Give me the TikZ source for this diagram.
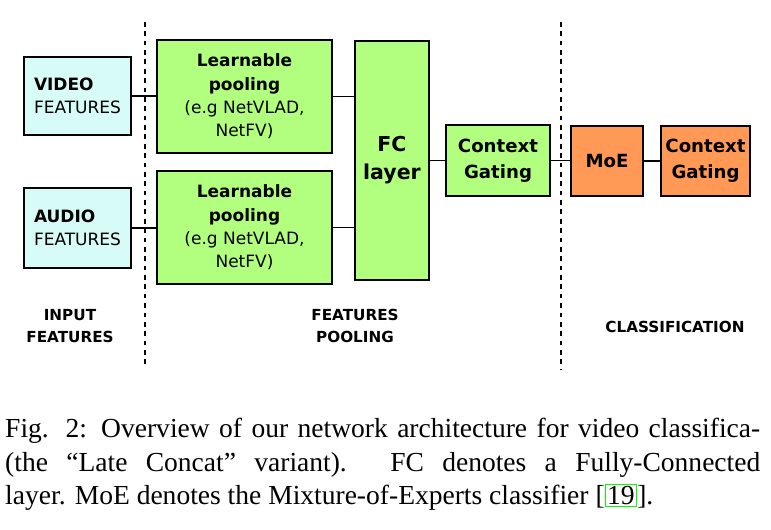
\documentclass[tikz,border=0pt]{standalone}
\usepackage{fontspec}
\setmainfont{Liberation Serif}
\newfontfamily\boxfont{DejaVu Sans}
\usetikzlibrary{positioning}
\definecolor{inblue}{HTML}{D7FBF6}
\definecolor{poolgreen}{HTML}{B2FF7F}
\definecolor{moeorange}{HTML}{FF9955}
\tikzset{
  blk/.style = {draw=black, line width=1pt, align=center, inner sep=0pt,
    font=\boxfont\fontsize{14.5}{20}\selectfont},
  lbl/.style = {align=center, font=\boxfont\bfseries\fontsize{13}{19.5}\selectfont},
  link/.style = {line width=1pt},
  sep/.style = {line width=1pt, dash pattern=on 4pt off 4pt},
  captxt/.style = {anchor=west, inner sep=0pt, font=\fontsize{23.5}{32}\selectfont}
}
\begin{document}
\begin{tikzpicture}[x=0.03cm, y=-0.03cm]
\useasboundingbox (0,0) rectangle (771,530);
% inputs
\node[blk, fill=inblue, minimum width=107*0.03cm, minimum height=78*0.03cm, align=left]
  (video) at (77.5,96) {\textbf{VIDEO}\\FEATURES};
\node[blk, fill=inblue, minimum width=107*0.03cm, minimum height=80*0.03cm, align=left]
  (audio) at (77.5,228) {\textbf{AUDIO}\\FEATURES};
% pooling
\node[blk, fill=poolgreen, minimum width=175*0.03cm, minimum height=113*0.03cm]
  (poolv) at (244.5,96.5) {\textbf{Learnable}\\\textbf{pooling}\\(e.g NetVLAD,\\NetFV)};
\node[blk, fill=poolgreen, minimum width=175*0.03cm, minimum height=113*0.03cm]
  (poola) at (244.5,227.5) {\textbf{Learnable}\\\textbf{pooling}\\(e.g NetVLAD,\\NetFV)};
\node[blk, fill=poolgreen, minimum width=74*0.03cm, minimum height=239*0.03cm,
  font=\boxfont\bfseries\fontsize{17.5}{24}\selectfont]
  (fc) at (392,160.5) {FC\\layer};
\node[blk, fill=poolgreen, minimum width=104*0.03cm, minimum height=71*0.03cm,
  font=\boxfont\fontsize{15.5}{22}\selectfont]
  (cg) at (498,160.5) {\textbf{Context}\\\textbf{Gating}};
% classification
\node[blk, fill=moeorange, minimum width=72*0.03cm, minimum height=70*0.03cm,
  font=\boxfont\fontsize{15.5}{22}\selectfont]
  (moe) at (607,161) {\textbf{MoE}};
\node[blk, fill=moeorange, minimum width=89*0.03cm, minimum height=70*0.03cm,
  font=\boxfont\fontsize{15.5}{22}\selectfont]
  (cgout) at (705.5,161) {\textbf{Context}\\\textbf{Gating}};
% links
\draw[link] (video.east) -- (poolv.west |- video.east);
\draw[link] (audio.east) -- (poola.west |- audio.east);
\draw[link] (poolv.east) -- (fc.west |- poolv.east);
\draw[link] (poola.east) -- (fc.west |- poola.east);
\draw[link] (fc.east |- cg.west) -- (cg.west);
\draw[link] (cg.east) -- (moe.west |- cg.east);
\draw[link] (moe.east) -- (cgout.west);
% separators
\coordinate (s1t) at (145,22); \coordinate (s1b) at (145,365);
\coordinate (s2t) at (561,22); \coordinate (s2b) at (561,370);
\draw[sep] (s1t) -- (s1b);
\draw[sep] (s2t) -- (s2b);
% stage labels
\node[lbl] (lin) at (70,326) {INPUT\\FEATURES};
\node[lbl] (lpool) at (355,326) {FEATURES\\POOLING};
\node[lbl] (lcls) at (675,327) {CLASSIFICATION};
% caption
\node[captxt] (cap1) at (5,431)
  {\makebox[22.65cm][s]{Fig. 2: Overview of our network architecture for video classifica-}};
\node[captxt] (cap2) at (5,465)
  {\makebox[22.65cm][s]{(the ``Late Concat'' variant). FC denotes a Fully-Connected}};
\node[captxt] (cap3) at (5,497)
  {layer. MoE denotes the Mixture-of-Experts classifier [{\setlength{\fboxsep}{1pt}\setlength{\fboxrule}{1.2pt}\fcolorbox{green}{white}{19}}].};
\end{tikzpicture}
\end{document}
